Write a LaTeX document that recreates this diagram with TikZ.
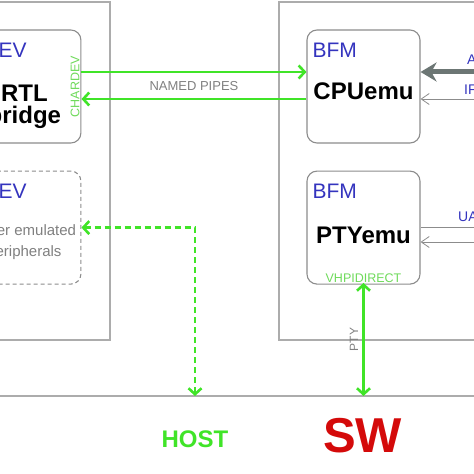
\documentclass[tikz,border=0pt]{standalone}
\usepackage{fontspec}
\setmainfont{Liberation Sans}
\usetikzlibrary{positioning, arrows.meta, calc}
\definecolor{pipegreen}{RGB}{64,228,40}
\definecolor{taggreen}{RGB}{110,218,90}
\definecolor{tagblue}{RGB}{52,52,190}
\definecolor{swred}{RGB}{212,10,10}
\definecolor{framegray}{RGB}{172,172,172}
\definecolor{boxgray}{RGB}{140,140,140}
\definecolor{busgray}{RGB}{108,118,116}
\tikzset{
x=1pt, y=1pt, % one unit is one pixel of the picture
>={Straight Barb[length=6pt,width=13pt]}, % open heads on the green pipes
node distance=27pt, % gap between the boxes of one column
frame/.style={draw=framegray, line width=1.4pt}, % the two machines and the host line
bfm/.style={draw=boxgray, line width=1.1pt, rounded corners=10pt, minimum width=113pt, minimum height=113pt},
other/.style={bfm, dashed, dash pattern=on 4pt off 3pt},
title/.style={font=\bfseries\fontsize{24}{22}\selectfont, inner sep=0pt},
kind/.style={text=tagblue, font=\fontsize{21}{21}\selectfont, inner sep=0pt},
iface/.style={text=taggreen, font=\fontsize{12.5}{12.5}\selectfont, inner sep=0pt},
note/.style={text=gray, font=\fontsize{13}{13}\selectfont, inner sep=0pt},
pipe/.style={draw=pipegreen, line width=2.6pt},
bus/.style={draw=busgray, line width=5pt, -{Stealth[length=16pt,width=19pt]}},
wire/.style={draw=boxgray, line width=0.8pt, -{Straight Barb[length=8pt,width=11pt]}},
}

\begin{document}
\begin{tikzpicture}
    \clip (0,0) rectangle (474,474);
    % machines and host
    \draw[frame] (-40,134) rectangle (110,472);
    \draw[frame] (279,134) rectangle (530,472);
    \coordinate (hostL) at (-10,78);
    \coordinate (hostR) at (484,78);
    \draw[frame] (hostL) -- (hostR);

    \node[bfm] (cpuemu) at (363.5,387.5) {};
    \node[bfm, below=of cpuemu] (ptyemu) {};
    \node[bfm, left=225pt of cpuemu] (rtl) {};
    \node[other, below=of rtl] (periph) {};

    \node[kind, anchor=base west] at ([shift={(6,-28)}]cpuemu.north west) {BFM};
    \node[kind, anchor=base west] at ([shift={(6,-28)}]ptyemu.north west) {BFM};
    \node[kind, anchor=base west] at ([shift={(31,-28)}]rtl.north west) {EV};
    \node[kind, anchor=base west] at ([shift={(31,-28)}]periph.north west) {EV};

    \node[title, anchor=base] at ([yshift=-13.5]cpuemu.center) {CPUemu};
    \node[title, anchor=base] at ([yshift=-15.5]ptyemu.center) {PTYemu};
    \node[title, align=center] at ([yshift=-20.5]rtl.center) {RTL\\bridge};
    \node[text=gray, inner sep=0pt, align=center, font=\fontsize{15}{21}\selectfont] at ([yshift=-15]periph.center) {Other emulated\\peripherals};

    \node[iface, rotate=90, anchor=base] (chardev) at ([xshift=-2]rtl.east) {CHARDEV};
    \node[iface, anchor=base] (vhpi) at ([yshift=2]ptyemu.south) {VHPIDIRECT};

    % pipes between the two sides
    \draw[pipe, ->] ([yshift=14.5]rtl.east) -- ([yshift=14.5]cpuemu.west);
    \draw[pipe, ->] ([yshift=-12.5]cpuemu.west) -- ([yshift=-12.5]rtl.east);
    \node[note] at ($(rtl.east)!0.5!(cpuemu.west)$) {NAMED PIPES};

    \draw[pipe, <->, dashed, dash pattern=on 6pt off 4pt] (periph.east) -| (hostL -| 195,0);
    \draw[pipe, <->] (vhpi.south) -- (hostL -| vhpi.south)
        node[midway, left=4pt, rotate=90, anchor=south, note, font=\fontsize{12}{12}\selectfont] {PTY};

    % buses from the right
    \coordinate (busA) at (490,402);
    \coordinate (busB) at (490,375);
    \coordinate (busC) at (490,247);
    \coordinate (busD) at (490,232);
    \draw[bus] (busA) -- (busA -| cpuemu.east);
    \draw[wire] (busB) -- (busB -| cpuemu.east);
    \draw[draw=boxgray, line width=0.8pt] (busC) -- (busC -| ptyemu.east);
    \draw[wire] (busD) -- (busD -| ptyemu.east);
    \node[text=tagblue, font=\fontsize{14}{14}\selectfont, inner sep=0pt, anchor=base west] at (467,409) {A};
    \node[text=tagblue, font=\fontsize{14}{14}\selectfont, inner sep=0pt, anchor=base west] at (464,379) {IF};
    \node[text=tagblue, font=\fontsize{14}{14}\selectfont, inner sep=0pt, anchor=base west] at (458,252) {UA};

    \node[text=pipegreen, font=\bfseries\fontsize{24}{24}\selectfont, inner sep=0pt, anchor=base] at (195,27) {HOST};
    \node[text=swred, font=\bfseries\fontsize{49}{49}\selectfont, inner sep=0pt, anchor=base] at (362.5,21) {SW};
\end{tikzpicture}
\end{document}
